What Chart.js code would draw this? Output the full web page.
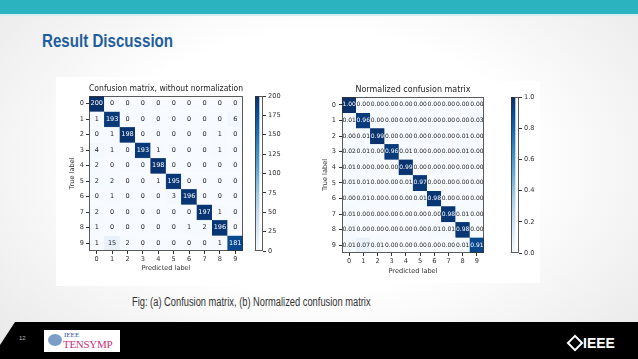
<!DOCTYPE html>
<html><head><meta charset="utf-8">
<script src="https://cdn.jsdelivr.net/npm/chart.js@4"></script>
<style>
html,body{margin:0;padding:0;width:638px;height:359px;overflow:hidden;}
body{position:relative;background:radial-gradient(ellipse 72% 80% at 50% 45%, #ffffff 45%, #e6e6e6 100%);font-family:'Liberation Sans',sans-serif;}
.abs{position:absolute;}
#topbar{left:0;top:0;width:638px;height:14px;background:#2bb4c0;}
#topline{left:0;top:14px;width:638px;height:2px;background:#d6eef0;}
#title{left:42px;top:31px;font-size:18px;font-weight:bold;color:#1f5f9e;white-space:nowrap;transform:scaleX(0.84);transform-origin:0 0;}
.box{background:#fff;}
#caption{left:132px;top:295px;font-size:12.5px;color:#333;white-space:nowrap;transform:scaleX(0.745);transform-origin:0 0;}
#footer{left:0;top:322px;width:638px;height:37px;background:#000;clip-path:polygon(15px 0,100% 0,100% 100%,0 100%,0 23px);}
#pnum{left:19px;top:335px;font-size:6px;color:#bbb;}
#logo{left:44px;top:330px;width:76px;height:22px;background:#fff;overflow:hidden;}
#logo .globe{position:absolute;left:4px;top:4px;width:14px;height:12px;border-radius:50%;background:#5b86b8;opacity:.8;}
#logo .ieee{position:absolute;left:20px;top:1px;font-size:7px;color:#2a57a0;font-family:'Liberation Serif',serif;}
#logo .ten{position:absolute;left:19px;top:8px;font-size:11px;color:#c8307a;font-family:'Liberation Serif',serif;letter-spacing:-0.3px;}
#ieeeR{left:583px;top:335px;font-size:14px;font-weight:bold;color:#fff;font-family:'Liberation Sans',sans-serif;}
#diamond{left:569px;top:337px;width:8px;height:8px;border:2px solid #fff;transform:rotate(45deg);}
canvas{position:absolute;}
</style></head>
<body>
<div id="topbar" class="abs"></div>
<div id="topline" class="abs"></div>
<div id="title" class="abs">Result Discussion</div>
<div class="abs box" style="left:56px;top:77px;width:227px;height:209px;"></div>
<div class="abs box" style="left:310px;top:81px;width:230px;height:202px;"></div>
<canvas id="cmA" width="212" height="195" style="left:60px;top:80px;"></canvas>
<canvas id="cbA" width="40" height="195" style="left:250px;top:80px;"></canvas>
<canvas id="cmB" width="206" height="196" style="left:310px;top:81px;"></canvas>
<canvas id="cbB" width="40" height="196" style="left:506px;top:81px;"></canvas>
<div id="caption" class="abs">Fig: (a) Confusion matrix, (b) Normalized confusion matrix</div>
<div id="footer" class="abs"></div>
<div id="pnum" class="abs">12</div>
<div id="logo" class="abs"><div class="globe"></div><div class="ieee">IEEE</div><div class="ten">TENSYMP</div></div>
<div id="diamond" class="abs"></div>
<div id="ieeeR" class="abs">IEEE</div>
<script>
// ---- data ----
const classLabels = ['0','1','2','3','4','5','6','7','8','9'];
const countMatrix = [
  [200,0,0,0,0,0,0,0,0,0],
  [1,193,0,0,0,0,0,0,0,6],
  [0,1,198,0,0,0,0,0,1,0],
  [4,1,0,193,1,0,0,0,1,0],
  [2,0,0,0,198,0,0,0,0,0],
  [2,2,0,0,1,195,0,0,0,0],
  [0,1,0,0,0,3,196,0,0,0],
  [2,0,0,0,0,0,0,197,1,0],
  [1,0,0,0,0,0,1,2,196,0],
  [1,15,2,0,0,0,0,0,1,181]
];
const normMatrix = [
  [1.00,0.00,0.00,0.00,0.00,0.00,0.00,0.00,0.00,0.00],
  [0.01,0.96,0.00,0.00,0.00,0.00,0.00,0.00,0.00,0.03],
  [0.00,0.01,0.99,0.00,0.00,0.00,0.00,0.00,0.01,0.00],
  [0.02,0.01,0.00,0.96,0.01,0.00,0.00,0.00,0.01,0.00],
  [0.01,0.00,0.00,0.00,0.99,0.00,0.00,0.00,0.00,0.00],
  [0.01,0.01,0.00,0.00,0.01,0.97,0.00,0.00,0.00,0.00],
  [0.00,0.01,0.00,0.00,0.00,0.01,0.98,0.00,0.00,0.00],
  [0.01,0.00,0.00,0.00,0.00,0.00,0.00,0.98,0.01,0.00],
  [0.01,0.00,0.00,0.00,0.00,0.00,0.01,0.01,0.98,0.00],
  [0.01,0.07,0.01,0.00,0.00,0.00,0.00,0.00,0.01,0.91]
];
const countTicks = [0,25,50,75,100,125,150,175,200];
const normTicks = [0,0.2,0.4,0.6,0.8,1.0];
const titleA = 'Confusion matrix, without normalization';
const titleB = 'Normalized confusion matrix';
const xTitle = 'Predicted label';
const yTitle = 'True label';

// ---- colormap (matplotlib Blues) ----
const BLUES = ['#f7fbff','#deebf7','#c6dbef','#9ecae1','#6baed6','#4292c6','#2171b5','#08519c','#08306b'];
function hex2rgb(h){return [1,3,5].map(i=>parseInt(h.substr(i,2),16));}
function blues(t){
  t=Math.max(0,Math.min(1,t));
  const p=t*8, i=Math.min(7,Math.floor(p)), f=p-i;
  const a=hex2rgb(BLUES[i]), b=hex2rgb(BLUES[i+1]);
  return 'rgb('+a.map((v,k)=>Math.round(v+(b[k]-v)*f)).join(',')+')';
}

Chart.defaults.font.family = "'DejaVu Sans', sans-serif";
Chart.defaults.color = '#333';

const spine = {
  id:'spine',
  afterDraw(chart){
    const a=chart.chartArea, c=chart.ctx;
    c.save(); c.strokeStyle='#333'; c.lineWidth=0.8;
    c.strokeRect(Math.round(a.left)+0.5, Math.round(a.top)+0.5, Math.round(a.right-a.left)-1, Math.round(a.bottom-a.top)-1);
    c.restore();
  }
};
const cellText = {
  id:'cellText',
  afterDatasetsDraw(chart, args, opts){
    if(!opts || !opts.fmt) return;
    const c=chart.ctx; c.save();
    c.font = opts.size+"px 'DejaVu Sans'"; c.textAlign='center'; c.textBaseline='middle';
    chart.data.datasets.forEach((ds,i)=>{
      chart.getDatasetMeta(i).data.forEach((el,j)=>{
        const v=ds.values[j];
        c.fillStyle = v > opts.thresh ? '#ffffff' : '#222';
        c.fillText(opts.fmt(v), el.x, (el.y+el.base)/2);
      });
    });
    c.restore();
  }
};

function makeMatrix(id, title, matrix, vmax, fmt, textSize, yWidth, yTitlePad, xTitlePad, yTickPad, xTickPad){
  const datasets = matrix.map((row,r)=>({
    data: row.map(()=>[r-0.5, r+0.5]),
    values: row,
    backgroundColor: row.map(v=>blues(v/vmax)),
    borderColor: row.map(v=>blues(v/vmax)),
    borderWidth: 0.5,
    borderSkipped: false,
    grouped: false,
    barPercentage: 1,
    categoryPercentage: 1
  }));
  return new Chart(document.getElementById(id), {
    type:'bar',
    data:{labels: classLabels, datasets},
    options:{
      responsive:false, animation:false,
      layout:{padding:{left:0, top:0, bottom:0, right:yWidth}},
      plugins:{
        legend:{display:false}, tooltip:{enabled:false},
        title:{display:true, fullSize:false, text:title, color:'#222', font:{size:8, weight:'normal'}, padding:{top:4,bottom:2.4}},
        cellText:{fmt, size:textSize, thresh:vmax/2}
      },
      scales:{
        x:{
          type:'category', offset:true,
          grid:{display:true, offset:false, drawOnChartArea:false, drawTicks:true, tickLength:3, color:'#333'},
          border:{display:false},
          ticks:{font:{size:6.6}, padding:xTickPad, color:'#333', maxRotation:0, autoSkip:false},
          title:{display:true, text:xTitle, font:{size:6.6}, color:'#333', padding:{top:0,bottom:xTitlePad}},
          afterFit(s){ s.height = 24; }
        },
        y:{
          type:'linear', reverse:true, min:-0.5, max:9.5,
          afterBuildTicks(s){ s.ticks = classLabels.map((l,i)=>({value:i})); },
          grid:{display:true, drawOnChartArea:false, drawTicks:true, tickLength:3, color:'#333'},
          border:{display:false},
          ticks:{font:{size:6.6}, padding:yTickPad, color:'#333', callback:(v)=>classLabels[v]},
          title:{display:true, text:yTitle, font:{size:6.6}, color:'#333', padding:{top:yTitlePad,bottom:0}},
          afterFit(s){ s.width = yWidth; }
        }
      }
    },
    plugins:[cellText, spine]
  });
}

function makeBar(id, vmax, ticks, fmt){
  return new Chart(document.getElementById(id), {
    type:'bar',
    data:{labels:[''], datasets:[{
      data:[[0,vmax]],
      backgroundColor(ctx){
        const ch=ctx.chart, a=ch.chartArea;
        if(!a) return blues(0.5);
        const g=ch.ctx.createLinearGradient(0,a.bottom,0,a.top);
        BLUES.forEach((c,i)=>g.addColorStop(i/8,c));
        return g;
      },
      borderWidth:0, barPercentage:1, categoryPercentage:1
    }]},
    options:{
      responsive:false, animation:false,
      layout:{padding:{left:5, top:16, bottom:24, right:0}},
      plugins:{legend:{display:false}, tooltip:{enabled:false}},
      scales:{
        x:{display:false, offset:false},
        y:{
          position:'right', min:0, max:vmax,
          afterBuildTicks(s){ s.ticks = ticks.map(v=>({value:v})); },
          grid:{display:true, drawOnChartArea:false, drawTicks:true, tickLength:3, color:'#333'},
          border:{display:false},
          ticks:{font:{size:6.6}, padding:2, color:'#333', callback:fmt},
          afterFit(s){ s.width = 27; }
        }
      }
    },
    plugins:[spine]
  });
}

makeMatrix('cmA', titleA, countMatrix, 200, v=>String(v), 6.5, 29, 8, 3, 2, 1);
makeBar('cbA', 200, countTicks, v=>String(v));
makeMatrix('cmB', titleB, normMatrix, 1.0, v=>v.toFixed(2), 6.0, 32, 11, 2, 3, 1.5);
makeBar('cbB', 1.0, normTicks, v=>v.toFixed(1));
</script>
</body></html>
